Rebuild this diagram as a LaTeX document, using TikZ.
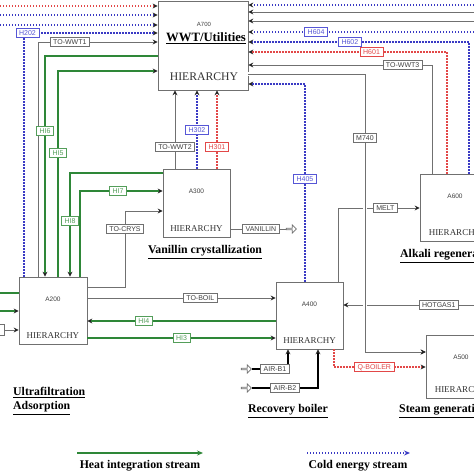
\documentclass[tikz,border=0pt]{standalone}
\usepackage{fontspec}
\setmainfont{Liberation Serif}
\setsansfont{Liberation Sans}
\usetikzlibrary{arrows.meta,positioning,shapes.arrows}

\definecolor{heatgreen}{RGB}{46,135,56}
\definecolor{heatlbl}{RGB}{84,158,90}
\definecolor{coldblue}{RGB}{58,58,196}
\definecolor{coldlbl}{RGB}{86,86,214}
\definecolor{hotred}{RGB}{226,72,72}
\definecolor{linegray}{RGB}{112,112,112}

\tikzset{
  unitbox/.style={draw=linegray, fill=white, line width=0.8pt, inner sep=0pt},
  unitid/.style={font=\sffamily\fontsize{6.5}{7}\selectfont, text=black!75, inner sep=1pt},
  hier/.style={font=\fontsize{9}{10}\selectfont, text=black!80, inner sep=1pt},
  areatitle/.style={font=\bfseries\fontsize{11.8}{14}\selectfont, align=left, inner sep=0pt},
  flow/.style={draw=linegray, line width=0.8pt},
  heat/.style={draw=heatgreen, line width=1.2pt},
  cold/.style={draw=coldblue, line width=1.2pt, dash pattern=on 1.2pt off 1.8pt},
  hot/.style={draw=hotred, line width=1.1pt, dash pattern=on 1.2pt off 1.8pt},
  feed/.style={draw=black, line width=1.8pt},
  lbl/.style={draw=linegray, fill=white, solid, line width=0.7pt, font=\sffamily\fontsize{7}{8}\selectfont,
    text=black!75, text height=5pt, text depth=0pt, inner xsep=3pt, inner ysep=2pt},
  hlbl/.style={lbl, draw=heatlbl, text=heatlbl},
  clbl/.style={lbl, draw=coldlbl, text=coldlbl},
  rlbl/.style={lbl, draw=hotred, text=hotred},
  prod/.style={single arrow, draw=linegray, fill=white, solid, line width=0.8pt, minimum height=10pt,
    minimum width=8pt, single arrow head extend=2pt, single arrow head indent=0pt, inner sep=0pt},
}

\begin{document}
\begin{tikzpicture}[x=1pt, y=-1pt, >={Stealth[length=5pt,width=5pt,inset=1.8pt,color=black!85]}]
\useasboundingbox (0,0) rectangle (474,474);
\clip (0,0) rectangle (474,474);

% process areas
\node[unitbox, minimum width=90pt, minimum height=89pt] (a700) at (203,45.5) {};
\node[unitid, font=\sffamily\fontsize{6}{7}\selectfont] (a700-id) at (204,24) {A700};
\node[inner sep=0pt, font=\bfseries\fontsize{12.7}{14}\selectfont] (a700-name) at (206,38.5) {\underline{WWT/Utilities}};
\node[hier, font=\fontsize{11.7}{13}\selectfont] (a700-hier) at (204,77) {HIERARCHY};

\foreach \n/\x/\y/\w/\h in {200/53/310.5/68/67, 300/196.5/203/67/68, 400/309.5/315.5/67/67,
                            600/455/207.5/70/67, 500/461/366.5/70/63} {
  \node[unitbox, minimum width=\w pt, minimum height=\h pt] (a\n) at (\x,\y) {};
  \node[unitid, below=19pt of a\n.north] (a\n-id) {A\n};
  \node[hier, above=5pt of a\n.south] (a\n-hier) {HIERARCHY};
}

% utilities, west side
\foreach \y/\s [count=\i] in {6/hot, 15/cold, 25/cold} {
  \coordinate (w\i) at (0,\y);
  \draw[\s,->] (w\i) -- (w\i -| a700.west);
}
\draw[cold,->] (a200.north -| 24,0) |- node[clbl, pos=0.5, xshift=3.5pt] (h202) {H202} (a700.west |- 0,33);
\draw[flow,->] (a200.north -| 38,0) |- node[lbl, pos=0.633] (towwt1) {TO-WWT1} (a700.west |- 0,42);
\draw[heat,->] (a700.west |- 0,56) -| node[hlbl, pos=0.67] (hi6) {HI6} (a200.north -| 45,0);
\draw[heat,->] (a200.north -| 58,0) |- node[hlbl, pos=0.3] (hi5) {HI5} (a700.west |- 0,71);

% crystallization
\draw[heat,->] (a300.west |- 0,173) -| node[hlbl, pos=0.73] (hi8) {HI8} (a200.north -| 70,0);
\draw[heat,->] (a200.north -| 80,0) |- node[hlbl, pos=0.73] (hi7) {HI7} (a300.west |- 0,191);
\draw[flow,->] (a200.east |- 0,287) -| node[lbl, pos=0.88] (tocrys) {TO-CRYS} (125,211) -- (a300.west |- 0,211);
\draw[flow,->] (a200.east |- 0,298) -- node[lbl, pos=0.6] (toboil) {TO-BOIL} (a400.west |- 0,298);

\draw[flow,->] (a300.north -| 175,0) -- node[lbl, pos=0.28] (towwt2) {TO-WWT2} (a700.south -| 175,0);
\draw[cold,->] (a300.north -| 197,0) -- node[clbl, pos=0.49] (h302) {H302} (a700.south -| 197,0);
\draw[hot,->] (a300.north -| 217,0) -- node[rlbl, pos=0.28] (h301) {H301} (a700.south -| 217,0);

\node[prod] (vanout) at (291,229) {};
\draw[flow] (a300.east |- 0,229) -- node[lbl, pos=0.55] (vanillin) {VANILLIN} (vanout.west);

% recovery boiler
\draw[cold,->] (a400.north -| 305,0) |- node[clbl, pos=0.26] (h405) {H405} (a700.east |- 0,84);
\draw[flow,->] (a400.north -| 338,0) |- node[lbl, pos=0.79] (melt) {MELT} (a600.west |- 0,208);
\coordinate (e1) at (474,305);
\draw[flow,->] (e1) -- node[lbl, pos=0.27] (hotgas1) {HOTGAS1} (e1 -| a400.east);
\draw[heat,->] (a400.west |- 0,321) -- node[hlbl, pos=0.7] (hi4) {HI4} (a200.east |- 0,321);
\draw[heat,->] (a200.east |- 0,338) -- node[hlbl, pos=0.5] (hi3) {HI3} (a400.west |- 0,338);

\node[prod] (air1) at (246,369) {};
\node[prod] (air2) at (246,388) {};
\draw[feed,->] (air1.east) -| node[lbl, pos=0.32] (airb1) {AIR-B1} (a400.south -| 288,0);
\draw[feed,->] (air2.east) -| node[lbl, pos=0.25] (airb2) {AIR-B2} (a400.south -| 318,0);
\draw[hot,->] (a400.south -| 334,0) |- node[rlbl, pos=0.72] (qboiler) {Q-BOILER} (a500.west |- 0,367);

\draw[flow,->, preaction={draw=white, line width=4pt}] (a700.east |- 0,74) -| node[lbl, pos=0.615] (m740) {M740} (365,352) -- (a500.west |- 0,352);

% utilities, east side
\foreach \y/\s [count=\i] in {5/cold, 12/flow, 21/flow} {
  \coordinate (r\i) at (474,\y);
  \draw[\s,->] (r\i) -- (r\i -| a700.east);
}
\coordinate (r4) at (474,32);
\draw[cold,->] (r4) -- node[clbl, pos=0.7] (h604) {H604} (r4 -| a700.east);
\draw[cold,->] (a600.north -| 469,0) |- node[clbl, pos=0.77] (h602) {H602} (a700.east |- 0,42);
\draw[hot,->] (a600.north -| 447,0) |- node[rlbl, pos=0.69] (h601) {H601} (a700.east |- 0,52);
\draw[flow,->] (a600.north -| 432,0) |- node[lbl, pos=0.58] (towwt3) {TO-WWT3} (a700.east |- 0,65);

% ultrafiltration inputs
\coordinate (w4) at (0,293);
\draw[heat] (w4) -- (w4 -| a200.west);
\coordinate (w5) at (0,311);
\draw[heat,->] (w5) -- (w5 -| a200.west);
\node[lbl, minimum width=24pt, minimum height=11pt] (feed200) at (-8,330) {};
\draw[flow,->] (feed200) -- (feed200 -| a200.west);

% area titles
\node[areatitle] (t300) at (205,252) {\underline{Vanillin crystallization}};
\node[areatitle, anchor=west] (t600) at (400,256) {\underline{Alkali regeneration}};
\node[areatitle] (t400) at (288,411) {\underline{Recovery boiler}};
\node[areatitle, anchor=west] (t500) at (399,411) {\underline{Steam generation}};
\node[areatitle, anchor=west] (t200) at (13,401) {\underline{Ultrafiltration}\\\underline{Adsorption}};

% legend
\coordinate (lg1) at (77,453);
\coordinate (lg2) at (203,453);
\draw[heat, -{Stealth[length=6pt,width=5pt,inset=2pt]}] (lg1) -- (lg2);
\node[areatitle] (lgheat) at (140,466) {Heat integration stream};
\coordinate (lg3) at (307,453);
\coordinate (lg4) at (410,453);
\draw[cold, -{Stealth[length=6pt,width=5pt,inset=2pt]}] (lg3) -- (lg4);
\node[areatitle] (lgcold) at (358,466) {Cold energy stream};
\end{tikzpicture}
\end{document}
